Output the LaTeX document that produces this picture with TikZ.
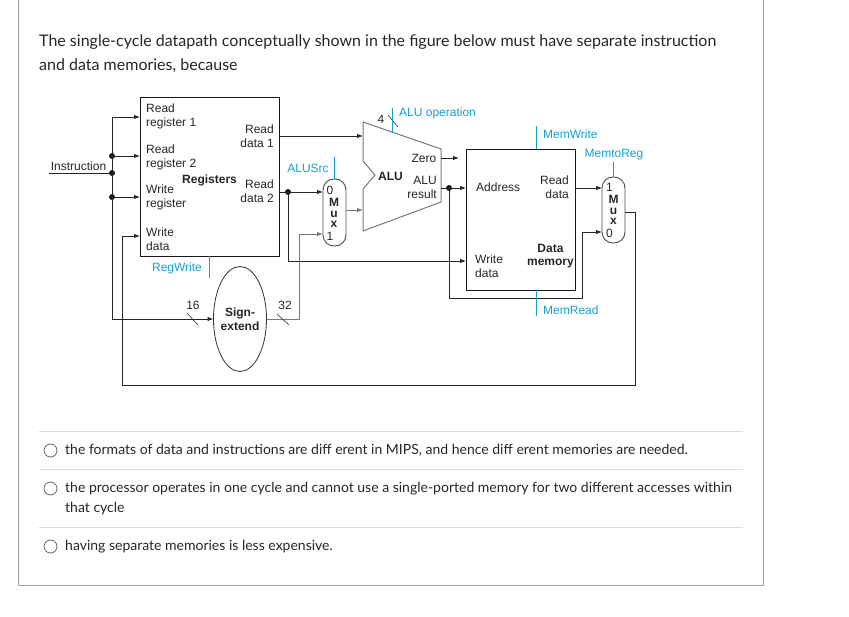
\documentclass[tikz,border=0pt]{standalone}
\usepackage{fontspec}
\setmainfont{Lato}
\newfontfamily\figfont{Liberation Sans}
\definecolor{ctrlblue}{RGB}{20,160,215}
\definecolor{wiregray}{RGB}{120,120,120}
\definecolor{framegray}{RGB}{160,160,160}
\definecolor{rulegray}{RGB}{218,218,218}
\tikzset{
	lbl/.style={align=left, inner sep=0pt, font=\figfont\fontsize{12}{14}\selectfont, text=black!85},
	lblr/.style={lbl, align=right},
	bold/.style={lbl, align=center, font=\figfont\bfseries\fontsize{12}{13.5}\selectfont},
	ctrl/.style={lbl, text=ctrlblue},
	ctrlline/.style={draw=ctrlblue, line width=1pt},
	wire/.style={draw=black!85, line width=0.9pt, -{Latex[length=6pt,width=4.5pt]}},
	plain/.style={draw=black!85, line width=0.9pt},
	dot/.style={circle, fill=black!90, inner sep=0pt, minimum size=6pt},
	muxbox/.style={draw=black!70, line width=0.9pt, rounded corners=11pt, minimum width=23pt, inner sep=0pt},
	blockbox/.style={draw=black!90, line width=0.9pt, inner sep=0pt},
	body/.style={inner sep=0pt, anchor=base west, font=\fontsize{14}{17}\selectfont, text=black!85},
	title/.style={body, font=\fontsize{16}{19}\selectfont},
	choice/.style={circle, draw=black!60, line width=0.8pt, minimum size=13pt, inner sep=0pt},
}
\usetikzlibrary{arrows.meta, shapes.geometric}
\begin{document}
\begin{tikzpicture}[x=1pt, y=-1pt]
	\useasboundingbox (0,0) rectangle (849,617);
	% page
	\draw[framegray, line width=1pt] (18.5,-5) -- (18.5,585.5) -- (763.5,585.5) -- (763.5,-5);
	\node[title] (q1) at (39,46.5) {The single-cycle datapath conceptually shown in the figure below must have separate instruction};
	\node[title] (q2) at (39,70.5) {and data memories, because};

	% boxes
	\node[blockbox, minimum width=139pt, minimum height=159pt] (regs) at (209.5,176.5) {};
	\node[blockbox, minimum width=109pt, minimum height=141pt] (dmem) at (520.5,219.5) {};
	\node[blockbox, ellipse, draw=black!80, line width=0.8pt, minimum width=53pt, minimum height=105pt] (sign) at (240,319) {};
	\node[muxbox, minimum height=67pt] (muxa) at (334.5,212.5) {};
	\node[muxbox, minimum height=66pt] (muxb) at (613.5,210) {};
	\draw[wiregray, line width=1pt] (363,122) -- (441,149) -- (441,202) -- (363,231) -- (363,189) -- (375,175) -- (363,161) -- cycle;

	% left labels
	\node[lbl, anchor=west] (rr1) at (146,116) {Read\\register 1};
	\node[lbl, anchor=west] (rr2) at (146,157) {Read\\register 2};
	\node[lbl, anchor=west] (wr) at (146,197.5) {Write\\register};
	\node[lbl, anchor=west] (wd) at (146,239) {Write\\data};
	\node[lblr, anchor=east] (rd1) at (274,136) {Read\\data 1};
	\node[lblr, anchor=east] (rd2) at (274,191) {Read\\data 2};
	\node[bold, anchor=west] (regtxt) at (182,180) {Registers};
	\node[bold] (signtxt) at (240,319) {Sign-\\extend};
	\node[lbl] (instr) at (78.5,166) {Instruction};
	\node[lbl] (n16) at (193,305) {16};
	\node[lbl] (n32) at (285,305) {32};
	\node[bold] (alutxt) at (390.5,176.5) {ALU};
	\node[lbl] (zero) at (424,158) {Zero};
	\node[lblr, anchor=east] (alures) at (437,187) {ALU\\result};
	\node[lbl, anchor=west] (addr) at (476,187) {Address};
	\node[lblr, anchor=east] (rdd) at (569,187) {Read\\data};
	\node[lbl, anchor=west] (wdd) at (475,266) {Write\\data};
	\node[bold, anchor=east] (dmemtxt) at (574,256) {Data\\memory};
	\node[lbl] (n4) at (381,119) {4};

	% mux labels
	\node[lbl] (ma0) at (330,190) {0};
	\node[lbl] (ma1) at (330,236) {1};
	\node[bold, font=\figfont\bfseries\fontsize{12}{10.5}\selectfont] (mam) at (334,213) {M\\u\\x};
	\node[lbl] (mb1) at (609.5,187) {1};
	\node[lbl] (mb0) at (609.5,233) {0};
	\node[bold, font=\figfont\bfseries\fontsize{12}{10.5}\selectfont] (mbm) at (613.5,210) {M\\u\\x};

	% control labels
	\node[ctrl] (regw) at (177,268) {RegWrite};
	\node[ctrl] (alusrc) at (308,168) {ALUSrc};
	\node[ctrl, anchor=west] (aluop) at (399,113) {ALU operation};
	\node[ctrl, anchor=west] (memw) at (543,134) {MemWrite};
	\node[ctrl] (memreg) at (614,155) {MemtoReg};
	\node[ctrl, anchor=west] (memr) at (543,310) {MemRead};

	% junctions
	\node[dot] (j1) at (112,156) {};
	\node[dot] (j2) at (112,173) {};
	\node[dot] (j3) at (112,197) {};
	\node[dot] (j4) at (288,192) {};
	\node[dot] (j5) at (449,188) {};

	% free ends
	\coordinate (start) at (49,173);
	\coordinate (top) at (112,117);
	\coordinate (low) at (112,319);
	\coordinate (pr1) at (140,117);
	\coordinate (pr2) at (140,156);
	\coordinate (pw) at (140,197);
	\coordinate (pd) at (140,236);
	\coordinate (back1) at (122,385);
	\coordinate (back2) at (635,385);
	\coordinate (back3) at (635,212);
	\coordinate (muxout) at (625,212);
	\coordinate (oa1) at (279,136);
	\coordinate (ia1) at (363,136);
	\coordinate (oa2) at (279,192);
	\coordinate (ma) at (323,192);
	\coordinate (mc) at (323,234);
	\coordinate (mo) at (346,210);
	\coordinate (ia2) at (363,210);
	\coordinate (sb1) at (299,319);
	\coordinate (sb2) at (299,234);
	\coordinate (sout) at (266.5,319);
	\coordinate (sin) at (213.5,319);
	\coordinate (wd1) at (288,261);
	\coordinate (wd2) at (466,261);
	\coordinate (z1) at (441,158);
	\coordinate (z2) at (459,158);
	\coordinate (r1) at (441,188);
	\coordinate (r2) at (466,188);
	\coordinate (d1) at (449,298);
	\coordinate (d2) at (582,298);
	\coordinate (d3) at (582,232);
	\coordinate (d4) at (602,232);
	\coordinate (d5) at (575,188);
	\coordinate (d6) at (602,188);

	% wires
	\draw[plain] (start) -- (j2);
	\draw[plain] (top) -- (low);
	\draw[wire] (top) -- (pr1);
	\draw[wire] (j1) -- (pr2);
	\draw[wire] (j3) -- (pw);
	\draw[wire] (low) -- (sin);
	\draw[wire] (muxout) -- (back3) -- (back2) -- (back1) -- (back1 |- pd) -- (pd);
	\draw[wire] (oa1) -- (ia1);
	\draw[wire] (oa2) -- (ma);
	\draw[wire] (j4) -- (wd1) -- (wd2);
	\draw[wire, draw=wiregray] (sout) -- (sb1) -- (sb2) -- (mc);
	\draw[wire, draw=wiregray] (mo) -- (ia2);
	\draw[wire] (z1) -- (z2);
	\draw[wire] (r1) -- (r2);
	\draw[wire] (j5) -- (d1) -- (d2) -- (d3) -- (d4);
	\draw[wire] (d5) -- (d6);

	% bus ticks
	\coordinate (t1a) at (187,313);
	\coordinate (t1b) at (198,325);
	\coordinate (t2a) at (277,314);
	\coordinate (t2b) at (289,325);
	\coordinate (t3a) at (388,115);
	\coordinate (t3b) at (398,127);
	\draw[black!80, line width=0.6pt] (t1a) -- (t1b);
	\draw[black!80, line width=0.6pt] (t2a) -- (t2b);
	\draw[black!80, line width=0.6pt] (t3a) -- (t3b);

	% control lines
	\coordinate (c1a) at (209,256);
	\coordinate (c1b) at (209,278);
	\coordinate (c2a) at (334,157);
	\coordinate (c2b) at (334,179);
	\coordinate (c3a) at (392,108);
	\coordinate (c3b) at (392,133);
	\coordinate (c4a) at (536,126);
	\coordinate (c4b) at (536,149);
	\coordinate (c5a) at (536,290);
	\coordinate (c5b) at (536,316);
	\coordinate (c6a) at (613,162);
	\coordinate (c6b) at (613,177);
	\draw[ctrlline] (c1a) -- (c1b);
	\draw[ctrlline] (c2a) -- (c2b);
	\draw[ctrlline] (c3a) -- (c3b);
	\draw[ctrlline] (c4a) -- (c4b);
	\draw[ctrlline] (c5a) -- (c5b);
	\draw[ctrlline] (c6a) -- (c6b);

	% answers
	\coordinate (ra1) at (39,431.5);
	\coordinate (ra2) at (743,431.5);
	\coordinate (rb1) at (39,469.5);
	\coordinate (rb2) at (743,469.5);
	\coordinate (rc1) at (39,527.5);
	\coordinate (rc2) at (743,527.5);
	\draw[rulegray, line width=1pt] (ra1) -- (ra2);
	\draw[rulegray, line width=1pt] (rb1) -- (rb2);
	\draw[rulegray, line width=1pt] (rc1) -- (rc2);
	\node[choice] (c1) at (50.5,450.5) {};
	\node[choice] (c2) at (50.5,488.5) {};
	\node[choice] (c3) at (50.5,546.5) {};
	\node[body] (a1) at (65,454) {the formats of data and instructions are diff erent in MIPS, and hence diff erent memories are needed.};
	\node[body] (a2) at (65,492) {the processor operates in one cycle and cannot use a single-ported memory for two different accesses within};
	\node[body] (a3) at (65,512) {that cycle};
	\node[body] (a4) at (65,550) {having separate memories is less expensive.};
\end{tikzpicture}
\end{document}
